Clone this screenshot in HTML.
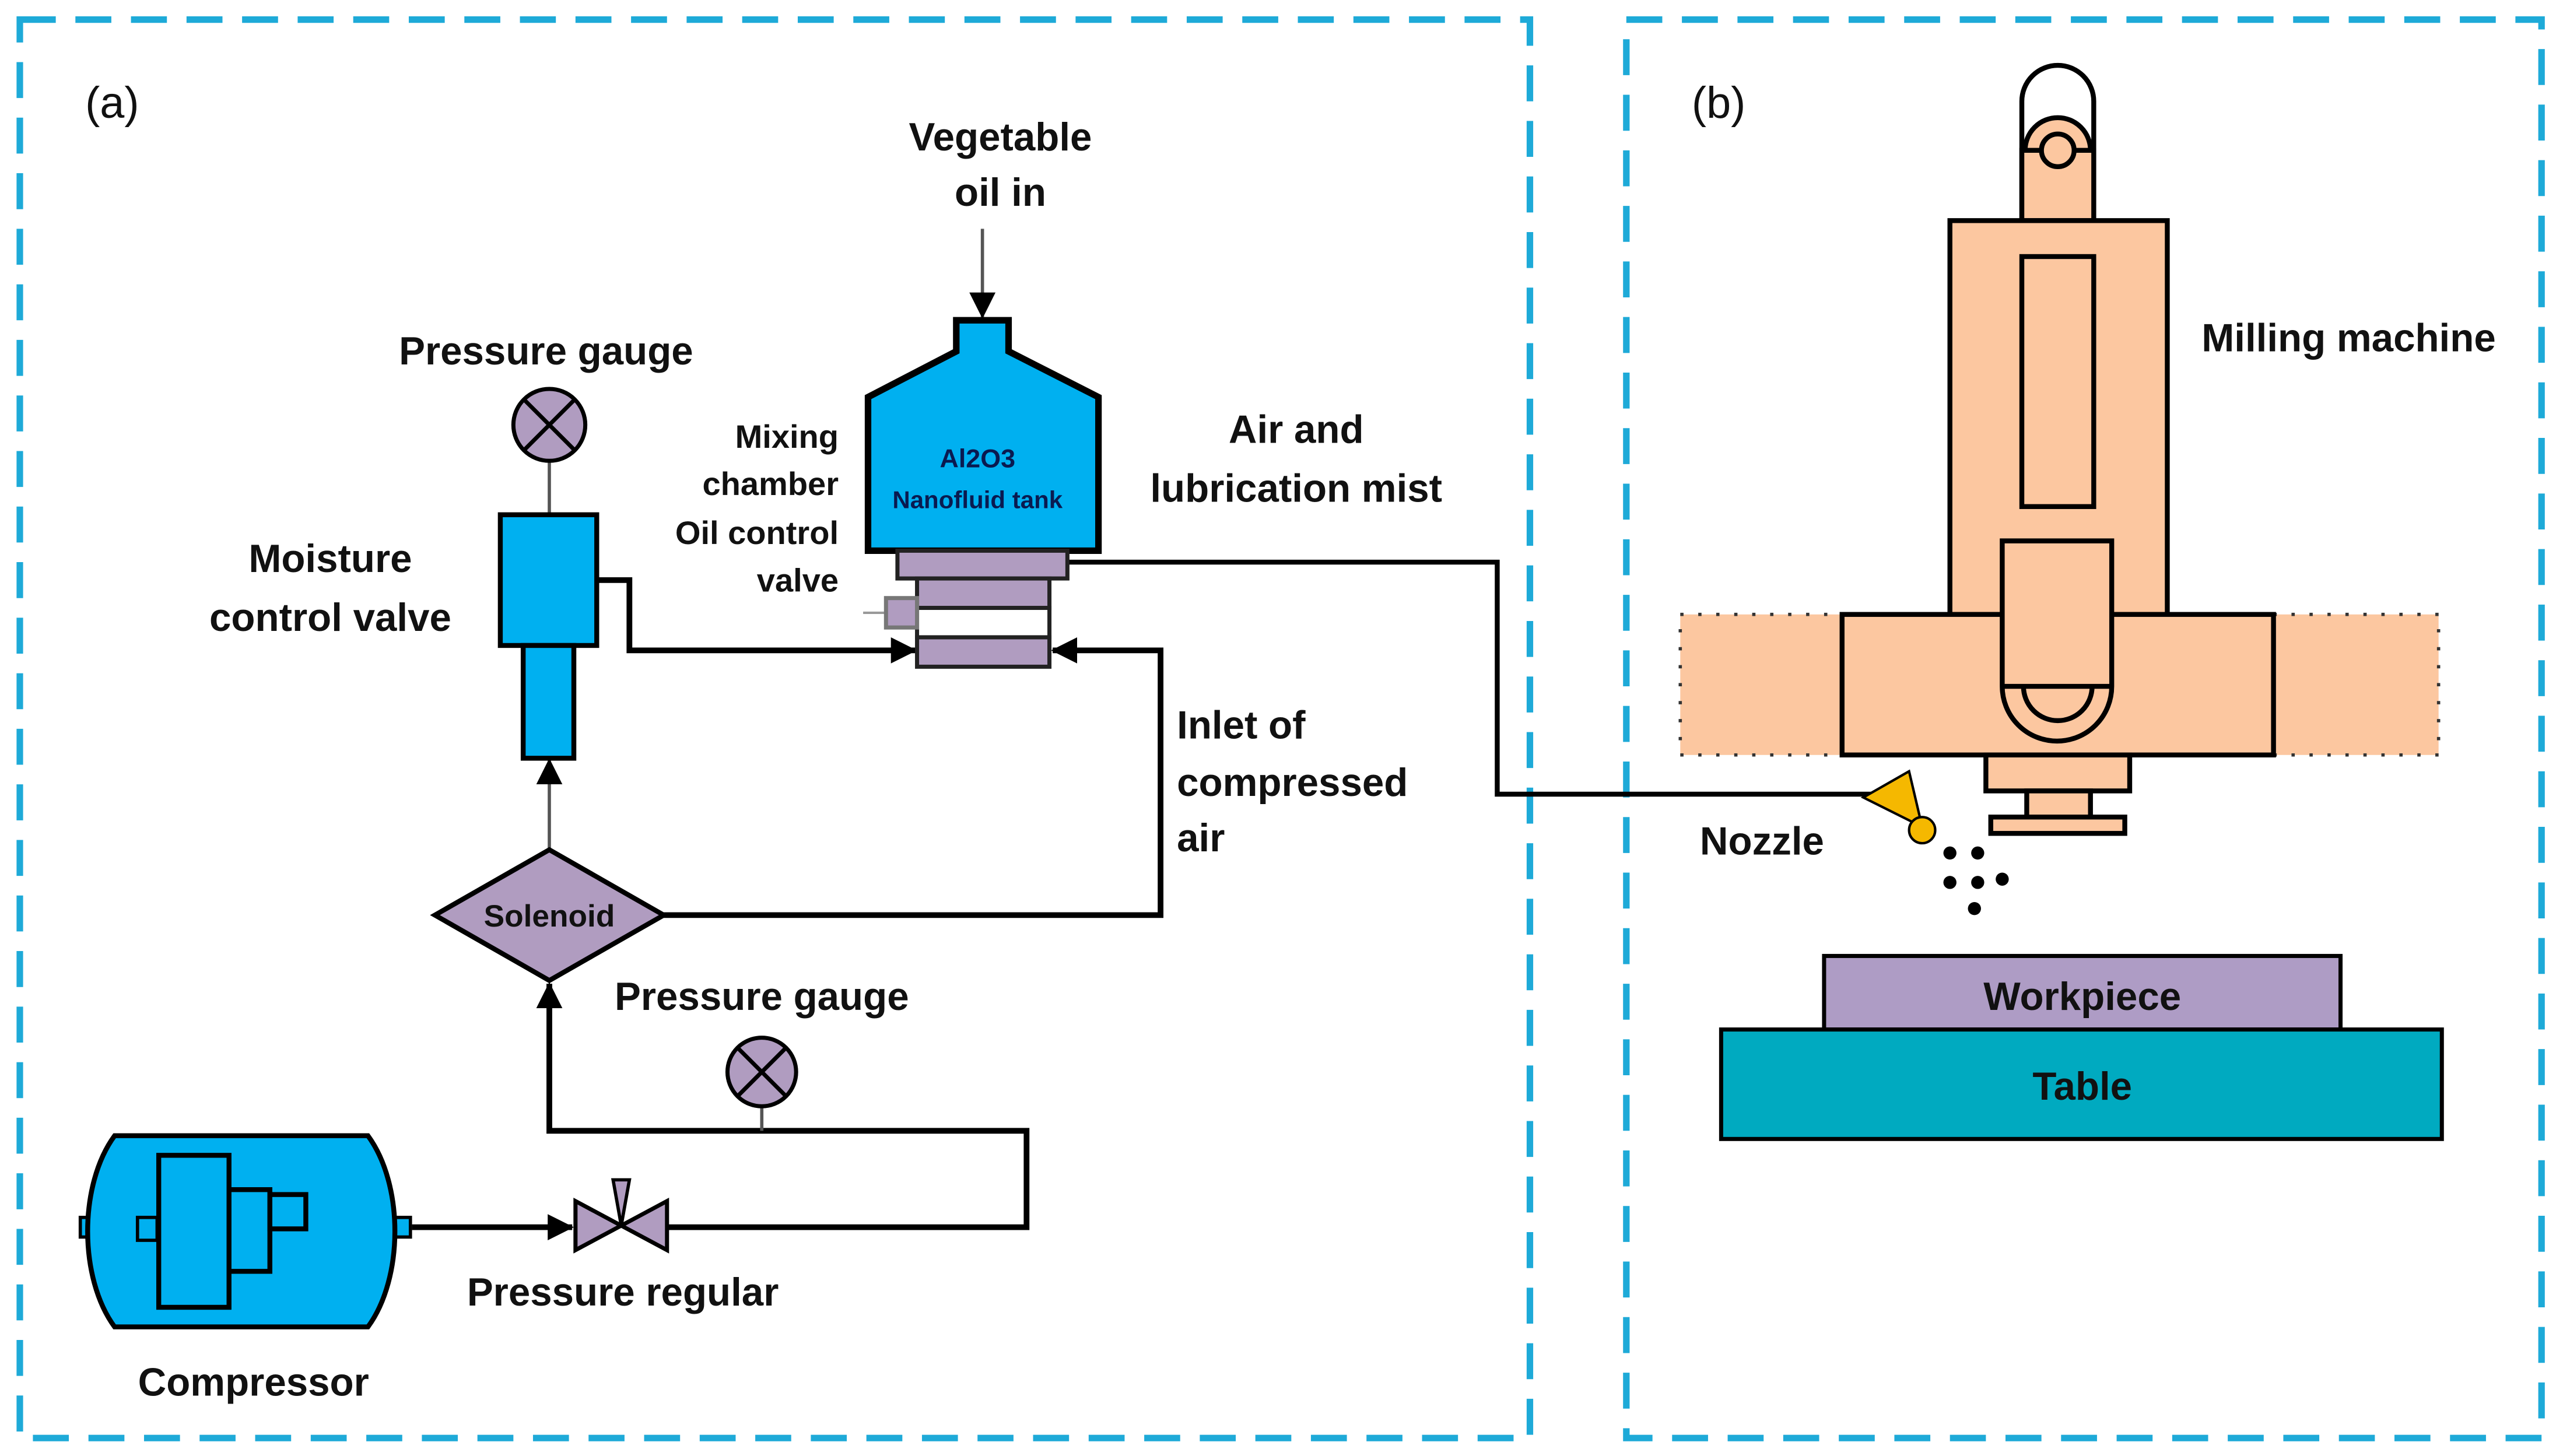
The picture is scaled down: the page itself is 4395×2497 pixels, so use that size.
<!DOCTYPE html>
<html><head><meta charset="utf-8"><style>
html,body{margin:0;padding:0;background:#fff}
svg{display:block}
text{font-family:"Liberation Sans",sans-serif;font-weight:bold;fill:#111}
</style></head><body>
<svg width="4395" height="2497" viewBox="0 0 1568 891" xmlns="http://www.w3.org/2000/svg">
<defs>
<marker id="arL" markerWidth="16" markerHeight="16" refX="15" refY="8" orient="auto" markerUnits="userSpaceOnUse" viewBox="0 0 16 16">
<path d="M0,0 L16,8 L0,16 z" fill="#000"/></marker>
</defs>
<rect x="12" y="12" width="924" height="868" fill="none" stroke="#1eaad8" stroke-width="4" stroke-dasharray="22 12"/>
<rect x="995" y="12" width="560" height="868" fill="none" stroke="#1eaad8" stroke-width="4" stroke-dasharray="22 12"/>
<text x="52" y="72" font-size="27" style="font-weight:normal">(a)</text>
<text x="1035" y="72" font-size="27" style="font-weight:normal">(b)</text>

<g fill="none" stroke="#000" stroke-width="3.5">
<path d="M252,751 H350" marker-end="url(#arL)"/>
<path d="M408,751 H628 V692 H336 V602" marker-end="url(#arL)"/>
<path d="M406,560 H710 V398 H644" marker-end="url(#arL)"/>
<path d="M365,355 H385 V398 H560" marker-end="url(#arL)"/>
<path d="M653,344 H916 V486 H1162" stroke-width="3"/>
</g>
<path d="M336,520 V465" stroke="#555" stroke-width="2" marker-end="url(#arL)"/>
<path d="M601,140 V194" stroke="#555" stroke-width="2" marker-end="url(#arL)"/>
<line x1="336" y1="282" x2="336" y2="315" stroke="#555" stroke-width="2"/>
<line x1="466" y1="677" x2="466" y2="692" stroke="#555" stroke-width="2"/>
<line x1="528" y1="375" x2="542" y2="375" stroke="#999" stroke-width="1.5"/>

<!-- compressor -->
<rect x="49" y="745" width="9" height="12" fill="#00b0f0" stroke="#000" stroke-width="2"/>
<rect x="240" y="745" width="11" height="12" fill="#00b0f0" stroke="#000" stroke-width="2"/>
<path d="M70,695 H225 C247,725 247,782 225,812 H70 C48,782 48,725 70,695 z" fill="#00b0f0" stroke="#000" stroke-width="3"/>
<rect x="84" y="745" width="12" height="14" fill="#00b0f0" stroke="#000" stroke-width="2"/>
<rect x="97" y="707" width="43" height="93" fill="#00b0f0" stroke="#000" stroke-width="3"/>
<rect x="140" y="728" width="25" height="50" fill="#00b0f0" stroke="#000" stroke-width="3"/>
<rect x="165" y="731" width="22" height="21" fill="#00b0f0" stroke="#000" stroke-width="3"/>

<path d="M352,735 L380,750 L352,765 z M408,735 L380,750 L408,765 z" fill="#b09cc0" stroke="#000" stroke-width="2.5"/>
<path d="M375,722 H385 L380,750 z" fill="#b09cc0" stroke="#000" stroke-width="2"/>

<g fill="#b09cc0" stroke="#000" stroke-width="2.5">
<circle cx="336" cy="260" r="22"/><path d="M320,244 L352,276 M352,244 L320,276"/>
<circle cx="466" cy="656" r="21"/><path d="M451,641 L481,671 M481,641 L451,671"/>
</g>

<path d="M266,560 L336,520 L406,560 L336,600 z" fill="#b09cc0" stroke="#000" stroke-width="3"/>
<text x="336" y="567" font-size="19" text-anchor="middle">Solenoid</text>

<rect x="306" y="315" width="59" height="80" fill="#00b0f0" stroke="#000" stroke-width="3"/>
<rect x="320" y="395" width="31" height="69" fill="#00b0f0" stroke="#000" stroke-width="3"/>

<path d="M585,196 H617 V215 L672,243 V337 H531 V243 L585,215 z" fill="#00b0f0" stroke="#000" stroke-width="4"/>
<text x="598" y="286" font-size="16" text-anchor="middle" style="fill:#0a1a50">Al2O3</text>
<text x="598" y="311" font-size="15" text-anchor="middle" style="fill:#0a1a50">Nanofluid tank</text>
<g stroke="#222" stroke-width="2.5">
<rect x="549" y="337" width="104" height="17" fill="#b09cc0"/>
<rect x="561" y="354" width="81" height="18" fill="#b09cc0"/>
<rect x="561" y="372" width="81" height="18" fill="#fff"/>
<rect x="561" y="390" width="81" height="18" fill="#b09cc0"/>
<rect x="542" y="366" width="19" height="18" fill="#b09cc0" stroke="#777"/>
</g>

<g font-size="24">
<text x="612" y="92" text-anchor="middle">Vegetable</text>
<text x="612" y="126" text-anchor="middle">oil in</text>
<text x="334" y="223" text-anchor="middle">Pressure gauge</text>
<text x="202" y="350" text-anchor="middle">Moisture</text>
<text x="202" y="386" text-anchor="middle">control valve</text>
<text x="793" y="271" text-anchor="middle">Air and</text>
<text x="793" y="307" text-anchor="middle">lubrication mist</text>
<text x="720" y="452">Inlet of</text>
<text x="720" y="487">compressed</text>
<text x="720" y="521">air</text>
<text x="466" y="618" text-anchor="middle">Pressure gauge</text>
<text x="381" y="799" text-anchor="middle">Pressure regular</text>
<text x="155" y="854" text-anchor="middle">Compressor</text>
</g>
<g font-size="20" text-anchor="end">
<text x="513" y="274">Mixing</text>
<text x="513" y="303">chamber</text>
<text x="513" y="333">Oil control</text>
<text x="513" y="362">valve</text>
</g>

<g stroke="#000" stroke-width="3" fill="#fcc7a0">
<path d="M1237,135 V62 A22,22 0 0 1 1281,62 V135" fill="#fff"/>
<path d="M1237,135 V92 H1281 V135 z"/>
<path d="M1239,92 A20,20 0 0 1 1279,92 z"/>
<circle cx="1259" cy="92" r="10" fill="#fcc7a0"/>
<rect x="1193" y="135" width="133" height="241"/>
<rect x="1237" y="157" width="44" height="153"/>
<rect x="1028" y="376" width="464" height="86" stroke="#333" stroke-width="2" stroke-dasharray="2 9"/>
<rect x="1127" y="376" width="264" height="86"/>
<path d="M1225,331 H1292 V420 A33,33 0 0 1 1225,420 z"/>
<path d="M1225,420 H1292"/>
<path d="M1238,420 A21,21 0 0 0 1280,420" fill="none"/>
<rect x="1215" y="462" width="88" height="22"/>
<rect x="1240" y="484" width="39" height="16"/>
<rect x="1218" y="500" width="82" height="10"/>
</g>
<path d="M1140,488 L1168,472 L1176,506 z" fill="#f5b800" stroke="#000" stroke-width="1.5"/>
<circle cx="1176" cy="508" r="8" fill="#f5b800" stroke="#000" stroke-width="1.5"/>
<g fill="#000">
<circle cx="1193" cy="522" r="4"/><circle cx="1210" cy="522" r="4"/>
<circle cx="1193" cy="540" r="4"/><circle cx="1210" cy="540" r="4"/><circle cx="1225" cy="538" r="4"/>
<circle cx="1208" cy="556" r="4"/>
</g>
<rect x="1116" y="585" width="316" height="45" fill="#ae9cc5" stroke="#000" stroke-width="2.5"/>
<rect x="1053" y="630" width="441" height="67" fill="#00aac0" stroke="#000" stroke-width="2.5"/>
<g font-size="24">
<text x="1274" y="618" text-anchor="middle">Workpiece</text>
<text x="1274" y="673" text-anchor="middle">Table</text>
<text x="1347" y="215">Milling machine</text>
<text x="1040" y="523">Nozzle</text>
</g>
</svg>
</body></html>
